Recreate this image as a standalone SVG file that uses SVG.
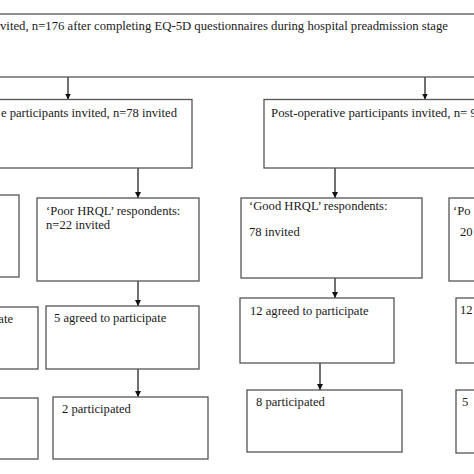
<svg xmlns="http://www.w3.org/2000/svg" width="474" height="474" viewBox="0 0 474 474">
<defs>
<style>
.box{fill:#fff;stroke:#555;stroke-width:1.3}
.t{font-family:"Liberation Serif","Times New Roman",serif;font-size:12.6px;fill:#1a1a1a}
.top{font-size:13px}
.c{stroke:#111;stroke-width:1.2;fill:none;marker-end:url(#ah)}
</style>
<marker id="ah" viewBox="0 0 10 10" refX="10" refY="5" markerWidth="6" markerHeight="6" markerUnits="userSpaceOnUse" orient="auto">
<path d="M0,0 L10,5 L0,10 z" fill="#111"/>
</marker>
</defs>
<rect width="474" height="474" fill="#fff"/>
<g id="connectors">
<line class="c" x1="68" y1="77" x2="68" y2="99.5"/>
<line class="c" x1="425" y1="77" x2="425" y2="99.5"/>
<line class="c" x1="138" y1="168" x2="138" y2="198"/>
<line class="c" x1="335" y1="168" x2="335" y2="198"/>
<line class="c" x1="138" y1="281" x2="138" y2="306"/>
<line class="c" x1="138" y1="369" x2="138" y2="397"/>
<line class="c" x1="335" y1="278" x2="335" y2="298"/>
<line class="c" x1="320" y1="363" x2="320" y2="390"/>
</g>
<g id="all-invited"><rect class="box" x="-5" y="14" width="485" height="63"/><text class="t top" x="0" y="30" textLength="448" lengthAdjust="spacingAndGlyphs">vited, n=176 after completing EQ-5D questionnaires during hospital preadmission stage</text></g>
<g id="pre-op"><rect class="box" x="-5" y="99.5" width="197" height="68.5"/><text class="t" x="177" y="117" text-anchor="end">e participants invited, n=78 invited</text></g>
<g id="post-op"><rect class="box" x="264" y="99.5" width="216" height="68.5"/><text class="t" x="271" y="117" textLength="206" lengthAdjust="spacingAndGlyphs">Post-operative participants invited, n= 9</text></g>
<g id="left-1"><rect class="box" x="-5" y="195" width="24" height="82"/></g>
<g id="poor-pre"><rect class="box" x="37" y="198" width="162" height="83"/><text class="t" x="46" y="215">‘Poor HRQL’ respondents:</text><text class="t" x="46" y="229">n=22 invited</text></g>
<g id="good-post"><rect class="box" x="241" y="198" width="181" height="80"/><text class="t" x="249" y="210">‘Good HRQL’ respondents:</text><text class="t" x="249" y="236">78 invited</text></g>
<g id="poor-post"><rect class="box" x="449" y="198" width="31" height="83"/><text class="t" x="453" y="215">‘Po</text><text class="t" x="460" y="236">20</text></g>
<g id="left-2"><rect class="box" x="-5" y="307" width="43" height="62"/><text class="t" x="13" y="323" text-anchor="end">ate</text></g>
<g id="agreed-5"><rect class="box" x="46" y="306" width="153" height="63"/><text class="t" x="54" y="322">5 agreed to participate</text></g>
<g id="agreed-12"><rect class="box" x="240" y="298" width="154" height="65"/><text class="t" x="250" y="315">12 agreed to participate</text></g>
<g id="right-2"><rect class="box" x="456" y="298" width="24" height="65"/><text class="t" x="460" y="314">12</text></g>
<g id="left-3"><rect class="box" x="-5" y="398" width="43" height="61"/></g>
<g id="part-2"><rect class="box" x="53" y="397" width="155" height="62"/><text class="t" x="62" y="413">2 participated</text></g>
<g id="part-8"><rect class="box" x="247" y="390" width="155" height="62"/><text class="t" x="256" y="406">8 participated</text></g>
<g id="right-3"><rect class="box" x="456" y="390" width="24" height="63"/><text class="t" x="462" y="406">5</text></g>
</svg>
